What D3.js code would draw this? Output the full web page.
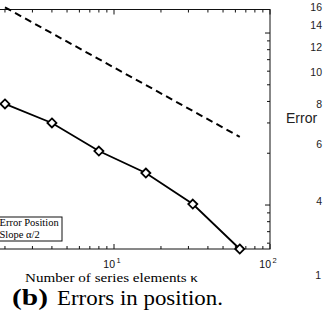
<!DOCTYPE html>
<html>
<head>
<meta charset="utf-8">
<script src="https://cdn.jsdelivr.net/npm/d3@7"></script>
<style>
  body { margin: 0; background: #fff; }
  svg { display: block; }
</style>
</head>
<body>
<div id="graphArea"></div>
<script>
// series elements kappa and position error
var kappa = [2, 4, 8, 16, 32, 64];
var errPosition = [3.87e-3, 3.0e-3, 2.06e-3, 1.535e-3, 1.013e-3, 0.555e-3];
// reference slope alpha/2 line
var slopeK = [2, 64];
var slopeVal = [14.1e-3, 2.49e-3];
// tick labels of the neighbouring panel (cut off on the right)
var nextTicks = [16, 14, 12, 10, 8, 6, 4];
var legendLabels = ["Error Position", "Slope \u03b1/2"];

var W = 323, H = 323;
var plotTop = 9.5, plotBottom = 249, plotRight = 270;

var svg = d3.select("#graphArea").append("svg")
  .attr("width", W).attr("height", H);
svg.append("rect").attr("width", W).attr("height", H).attr("fill", "#fff");

var x = d3.scaleLog().domain([1, 100]).range([-42, plotRight]);
var y = d3.scaleLog().domain([0.555e-3, 13.7e-3]).range([plotBottom, plotTop]);

var g = svg.append("g");

// frame
g.append("rect")
  .attr("x", x(1)).attr("y", plotTop)
  .attr("width", x(100) - x(1)).attr("height", plotBottom - plotTop)
  .attr("fill", "none").attr("stroke", "#111").attr("stroke-width", 1);

function isMajor(v) {
  var l = Math.log10(v);
  return Math.abs(l - Math.round(l)) < 1e-6;
}

// x ticks, bottom and top, pointing inward
var xt = x.ticks();
g.selectAll(".xb").data(xt).enter().append("line")
  .attr("x1", d => x(d)).attr("x2", d => x(d))
  .attr("y1", plotBottom).attr("y2", d => plotBottom - (isMajor(d) ? 5 : 3))
  .attr("stroke", "#111");
g.selectAll(".xt").data(xt).enter().append("line")
  .attr("x1", d => x(d)).attr("x2", d => x(d))
  .attr("y1", plotTop).attr("y2", d => plotTop + (isMajor(d) ? 5 : 3))
  .attr("stroke", "#111");

// y ticks on the right
var yt = y.ticks();
g.selectAll(".yr").data(yt).enter().append("line")
  .attr("x1", plotRight).attr("x2", d => plotRight - (isMajor(d) ? 5 : 3))
  .attr("y1", d => y(d)).attr("y2", d => y(d))
  .attr("stroke", "#111");

// x tick labels 10^n (the 10^0 one sits off the left edge)
var xlab = g.selectAll(".xl").data(xt.filter(d => isMajor(d) && d >= 10)).enter().append("text")
  .attr("x", d => x(d) - 2).attr("y", 268)
  .attr("text-anchor", "middle")
  .style("font-family", "Liberation Sans, Arial, sans-serif")
  .style("font-size", "10.5px").attr("fill", "#111");
xlab.append("tspan").text("10");
xlab.append("tspan").attr("dx", 1.5).attr("dy", -5).style("font-size", "7.5px")
  .text(d => Math.round(Math.log10(d)));

// slope line
var line = d3.line().x(d => x(d[0])).y(d => y(d[1]));
g.append("path")
  .datum(slopeK.map((k, i) => [k, slopeVal[i]]))
  .attr("d", line)
  .attr("fill", "none").attr("stroke", "#000")
  .attr("stroke-width", 2).attr("stroke-dasharray", "7,4.5");

// error line
var pts = kappa.map((k, i) => [k, errPosition[i]]);
g.append("path").datum(pts).attr("d", line)
  .attr("fill", "none").attr("stroke", "#000").attr("stroke-width", 1.8);
g.selectAll(".mk").data(pts).enter().append("path")
  .attr("d", d3.symbol().type(d3.symbolDiamond2).size(52))
  .attr("transform", d => "translate(" + x(d[0]) + "," + y(d[1]) + ")")
  .attr("fill", "#fff").attr("stroke", "#000").attr("stroke-width", 1.8);

// legend
var lg = g.append("g");
lg.append("rect").attr("x", -70).attr("y", 217).attr("width", 132).attr("height", 24)
  .attr("fill", "#fff").attr("stroke", "#111").attr("stroke-width", 1);
lg.selectAll("text").data(legendLabels).enter().append("text")
  .attr("x", -0.5).attr("y", (d, i) => 226 + i * 11.5)
  .style("font-family", "Liberation Serif, Times New Roman, serif")
  .style("font-size", "10.5px").attr("fill", "#000")
  .text(d => d);
lg.append("line").attr("x1", -40).attr("x2", -8).attr("y1", 223).attr("y2", 223)
  .attr("stroke", "#000").attr("stroke-width", 1.8);
lg.append("line").attr("x1", -40).attr("x2", -8).attr("y1", 235).attr("y2", 235)
  .attr("stroke", "#000").attr("stroke-width", 2).attr("stroke-dasharray", "7,4.5");

// x axis label
svg.append("text").attr("x", 25).attr("y", 282)
  .attr("textLength", 173).attr("lengthAdjust", "spacingAndGlyphs")
  .style("font-family", "Liberation Serif, Times New Roman, serif")
  .style("font-size", "13.5px").attr("fill", "#000")
  .text("Number of series elements \u03ba");

// caption
svg.append("text").attr("x", 12).attr("y", 305)
  .attr("textLength", 36).attr("lengthAdjust", "spacingAndGlyphs")
  .style("font-family", "Liberation Serif, Times New Roman, serif")
  .style("font-weight", "bold").style("font-size", "24px").attr("fill", "#000")
  .text("(b)");
svg.append("text").attr("x", 57).attr("y", 305)
  .attr("textLength", 166).attr("lengthAdjust", "spacingAndGlyphs")
  .style("font-family", "Liberation Serif, Times New Roman, serif")
  .style("font-size", "20px").attr("fill", "#000")
  .text("Errors in position.");

// neighbouring panel labels on the right edge
var ny = d3.scaleLog().domain([4, 16]).range([201, 7]);
svg.selectAll(".nt").data(nextTicks).enter().append("text")
  .attr("x", 322).attr("y", d => ny(d) + 3.5).attr("text-anchor", "end")
  .style("font-family", "Liberation Sans, Arial, sans-serif")
  .style("font-size", "10.5px").attr("fill", "#222")
  .text(d => d);
svg.append("text").attr("x", 321).attr("y", 279).attr("text-anchor", "end")
  .style("font-family", "Liberation Sans, Arial, sans-serif")
  .style("font-size", "10.5px").attr("fill", "#222").text("1");
svg.append("text").attr("x", 286).attr("y", 123)
  .style("font-family", "Liberation Sans, Arial, sans-serif")
  .style("font-size", "14px").attr("fill", "#222").text("Error");
</script>
</body>
</html>
